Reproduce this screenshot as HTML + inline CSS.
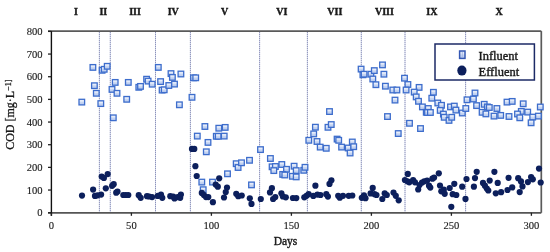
<!DOCTYPE html>
<html><head><meta charset="utf-8"><style>
html,body{margin:0;padding:0;background:#fff;}
body{width:550px;height:252px;overflow:hidden;}
svg{display:block;}
text{font-family:"Liberation Serif","Times New Roman",serif;fill:#1a1a1a;}
.tl{font-size:10.6px;stroke-width:0.12px;}
text{stroke:#1a1a1a;stroke-width:0.4px;}
.rm{font-size:10px;font-weight:bold;}
.sep0{stroke:#d3d8ee;stroke-width:0.9;}
.sep{stroke:#7a80aa;stroke-width:0.9;stroke-dasharray:1 1;}
.tk{stroke:#222;stroke-width:1.3;}
.sq{fill:url(#g);stroke:#3d6dcc;stroke-width:1.3;}
.ci{fill:#0c1f5c;}
</style></head><body>
<svg width="550" height="252" viewBox="0 0 550 252">
<defs><linearGradient id="g" x1="0" y1="0" x2="0" y2="1"><stop offset="0" stop-color="#d9e3f6"/><stop offset="0.3" stop-color="#e8eefa"/><stop offset="0.55" stop-color="#c6d5f2"/><stop offset="1" stop-color="#b6c9ee"/></linearGradient></defs>
<rect x="0" y="0" width="550" height="252" fill="#fff"/>
<line x1="99.4" y1="31.9" x2="99.4" y2="212" class="sep0"/><line x1="99.4" y1="31.9" x2="99.4" y2="212" class="sep"/><line x1="110.3" y1="31.9" x2="110.3" y2="212" class="sep0"/><line x1="110.3" y1="31.9" x2="110.3" y2="212" class="sep"/><line x1="155.5" y1="31.9" x2="155.5" y2="212" class="sep0"/><line x1="155.5" y1="31.9" x2="155.5" y2="212" class="sep"/><line x1="190.4" y1="31.9" x2="190.4" y2="212" class="sep0"/><line x1="190.4" y1="31.9" x2="190.4" y2="212" class="sep"/><line x1="259.6" y1="31.9" x2="259.6" y2="212" class="sep0"/><line x1="259.6" y1="31.9" x2="259.6" y2="212" class="sep"/><line x1="307.4" y1="31.9" x2="307.4" y2="212" class="sep0"/><line x1="307.4" y1="31.9" x2="307.4" y2="212" class="sep"/><line x1="361.3" y1="31.9" x2="361.3" y2="212" class="sep0"/><line x1="361.3" y1="31.9" x2="361.3" y2="212" class="sep"/><line x1="405" y1="31.9" x2="405" y2="212" class="sep0"/><line x1="405" y1="31.9" x2="405" y2="212" class="sep"/><line x1="465.6" y1="31.9" x2="465.6" y2="212" class="sep0"/><line x1="465.6" y1="31.9" x2="465.6" y2="212" class="sep"/>
<line x1="48" y1="31.1" x2="541.3" y2="31.1" stroke="#5a5a5a" stroke-width="1.7"/>
<line x1="541.3" y1="31.1" x2="541.3" y2="212.8" stroke="#5a5a5a" stroke-width="1.7"/>
<line x1="48" y1="212.8" x2="541.3" y2="212.8" stroke="#555" stroke-width="1.8"/>
<line x1="51.4" y1="31.1" x2="51.4" y2="215.8" stroke="#111" stroke-width="1.4"/>
<line x1="48" y1="212.70" x2="51.4" y2="212.70" class="tk"/><line x1="48" y1="190.04" x2="51.4" y2="190.04" class="tk"/><line x1="48" y1="167.38" x2="51.4" y2="167.38" class="tk"/><line x1="48" y1="144.71" x2="51.4" y2="144.71" class="tk"/><line x1="48" y1="122.05" x2="51.4" y2="122.05" class="tk"/><line x1="48" y1="99.39" x2="51.4" y2="99.39" class="tk"/><line x1="48" y1="76.72" x2="51.4" y2="76.72" class="tk"/><line x1="48" y1="54.06" x2="51.4" y2="54.06" class="tk"/><line x1="48" y1="31.40" x2="51.4" y2="31.40" class="tk"/><line x1="51.40" y1="212.7" x2="51.40" y2="215.8" class="tk"/><line x1="131.40" y1="212.7" x2="131.40" y2="215.8" class="tk"/><line x1="211.40" y1="212.7" x2="211.40" y2="215.8" class="tk"/><line x1="291.40" y1="212.7" x2="291.40" y2="215.8" class="tk"/><line x1="371.40" y1="212.7" x2="371.40" y2="215.8" class="tk"/><line x1="451.40" y1="212.7" x2="451.40" y2="215.8" class="tk"/><line x1="531.40" y1="212.7" x2="531.40" y2="215.8" class="tk"/>
<rect x="79.00" y="99.30" width="5.6" height="5.6" class="sq"/><rect x="90.10" y="64.60" width="5.6" height="5.6" class="sq"/><rect x="91.60" y="82.90" width="5.6" height="5.6" class="sq"/><rect x="93.50" y="90.50" width="5.6" height="5.6" class="sq"/><rect x="98.00" y="100.80" width="5.6" height="5.6" class="sq"/><rect x="99.30" y="67.50" width="5.6" height="5.6" class="sq"/><rect x="101.40" y="66.50" width="5.6" height="5.6" class="sq"/><rect x="104.40" y="63.50" width="5.6" height="5.6" class="sq"/><rect x="109.20" y="86.60" width="5.6" height="5.6" class="sq"/><rect x="112.40" y="79.60" width="5.6" height="5.6" class="sq"/><rect x="114.20" y="90.50" width="5.6" height="5.6" class="sq"/><rect x="110.50" y="115.00" width="5.6" height="5.6" class="sq"/><rect x="123.90" y="96.50" width="5.6" height="5.6" class="sq"/><rect x="125.50" y="79.60" width="5.6" height="5.6" class="sq"/><rect x="136.00" y="84.50" width="5.6" height="5.6" class="sq"/><rect x="137.70" y="83.60" width="5.6" height="5.6" class="sq"/><rect x="143.80" y="76.40" width="5.6" height="5.6" class="sq"/><rect x="145.30" y="78.30" width="5.6" height="5.6" class="sq"/><rect x="149.40" y="81.40" width="5.6" height="5.6" class="sq"/><rect x="155.50" y="64.60" width="5.6" height="5.6" class="sq"/><rect x="157.80" y="78.80" width="5.6" height="5.6" class="sq"/><rect x="159.30" y="87.30" width="5.6" height="5.6" class="sq"/><rect x="161.40" y="87.00" width="5.6" height="5.6" class="sq"/><rect x="166.00" y="82.70" width="5.6" height="5.6" class="sq"/><rect x="168.20" y="70.80" width="5.6" height="5.6" class="sq"/><rect x="169.60" y="74.60" width="5.6" height="5.6" class="sq"/><rect x="171.70" y="81.30" width="5.6" height="5.6" class="sq"/><rect x="178.10" y="71.20" width="5.6" height="5.6" class="sq"/><rect x="176.60" y="102.00" width="5.6" height="5.6" class="sq"/><rect x="189.20" y="94.50" width="5.6" height="5.6" class="sq"/><rect x="190.70" y="75.00" width="5.6" height="5.6" class="sq"/><rect x="192.90" y="75.00" width="5.6" height="5.6" class="sq"/><rect x="194.50" y="133.30" width="5.6" height="5.6" class="sq"/><rect x="202.10" y="123.70" width="5.6" height="5.6" class="sq"/><rect x="205.20" y="139.60" width="5.6" height="5.6" class="sq"/><rect x="203.50" y="149.00" width="5.6" height="5.6" class="sq"/><rect x="199.00" y="179.30" width="5.6" height="5.6" class="sq"/><rect x="200.40" y="186.90" width="5.6" height="5.6" class="sq"/><rect x="209.70" y="179.30" width="5.6" height="5.6" class="sq"/><rect x="213.50" y="133.50" width="5.6" height="5.6" class="sq"/><rect x="215.40" y="133.50" width="5.6" height="5.6" class="sq"/><rect x="216.00" y="125.40" width="5.6" height="5.6" class="sq"/><rect x="222.40" y="124.60" width="5.6" height="5.6" class="sq"/><rect x="221.40" y="133.30" width="5.6" height="5.6" class="sq"/><rect x="224.70" y="171.00" width="5.6" height="5.6" class="sq"/><rect x="233.40" y="160.90" width="5.6" height="5.6" class="sq"/><rect x="235.30" y="164.70" width="5.6" height="5.6" class="sq"/><rect x="238.70" y="160.00" width="5.6" height="5.6" class="sq"/><rect x="246.70" y="157.50" width="5.6" height="5.6" class="sq"/><rect x="248.70" y="182.10" width="5.6" height="5.6" class="sq"/><rect x="257.70" y="146.80" width="5.6" height="5.6" class="sq"/><rect x="267.60" y="155.70" width="5.6" height="5.6" class="sq"/><rect x="269.30" y="164.00" width="5.6" height="5.6" class="sq"/><rect x="272.60" y="163.70" width="5.6" height="5.6" class="sq"/><rect x="271.00" y="167.80" width="5.6" height="5.6" class="sq"/><rect x="279.00" y="161.70" width="5.6" height="5.6" class="sq"/><rect x="283.70" y="166.50" width="5.6" height="5.6" class="sq"/><rect x="279.90" y="171.60" width="5.6" height="5.6" class="sq"/><rect x="282.00" y="172.20" width="5.6" height="5.6" class="sq"/><rect x="291.30" y="163.40" width="5.6" height="5.6" class="sq"/><rect x="293.40" y="167.80" width="5.6" height="5.6" class="sq"/><rect x="289.60" y="173.50" width="5.6" height="5.6" class="sq"/><rect x="293.40" y="174.10" width="5.6" height="5.6" class="sq"/><rect x="300.95" y="167.50" width="5.6" height="5.6" class="sq"/><rect x="302.20" y="164.50" width="5.6" height="5.6" class="sq"/><rect x="306.00" y="137.50" width="5.6" height="5.6" class="sq"/><rect x="310.90" y="131.10" width="5.6" height="5.6" class="sq"/><rect x="312.60" y="124.40" width="5.6" height="5.6" class="sq"/><rect x="314.20" y="138.70" width="5.6" height="5.6" class="sq"/><rect x="317.40" y="144.30" width="5.6" height="5.6" class="sq"/><rect x="323.45" y="145.50" width="5.6" height="5.6" class="sq"/><rect x="325.20" y="124.50" width="5.6" height="5.6" class="sq"/><rect x="328.45" y="121.75" width="5.6" height="5.6" class="sq"/><rect x="326.70" y="108.75" width="5.6" height="5.6" class="sq"/><rect x="334.30" y="136.30" width="5.6" height="5.6" class="sq"/><rect x="335.90" y="137.50" width="5.6" height="5.6" class="sq"/><rect x="338.80" y="144.30" width="5.6" height="5.6" class="sq"/><rect x="345.40" y="145.20" width="5.6" height="5.6" class="sq"/><rect x="349.50" y="139.20" width="5.6" height="5.6" class="sq"/><rect x="350.90" y="143.90" width="5.6" height="5.6" class="sq"/><rect x="347.30" y="150.20" width="5.6" height="5.6" class="sq"/><rect x="358.30" y="66.30" width="5.6" height="5.6" class="sq"/><rect x="360.10" y="72.00" width="5.6" height="5.6" class="sq"/><rect x="361.30" y="71.40" width="5.6" height="5.6" class="sq"/><rect x="368.10" y="71.40" width="5.6" height="5.6" class="sq"/><rect x="371.50" y="67.80" width="5.6" height="5.6" class="sq"/><rect x="370.00" y="76.20" width="5.6" height="5.6" class="sq"/><rect x="373.10" y="81.90" width="5.6" height="5.6" class="sq"/><rect x="379.70" y="62.10" width="5.6" height="5.6" class="sq"/><rect x="381.10" y="71.40" width="5.6" height="5.6" class="sq"/><rect x="382.60" y="83.40" width="5.6" height="5.6" class="sq"/><rect x="384.70" y="113.75" width="5.6" height="5.6" class="sq"/><rect x="390.00" y="87.20" width="5.6" height="5.6" class="sq"/><rect x="394.10" y="87.20" width="5.6" height="5.6" class="sq"/><rect x="392.20" y="97.30" width="5.6" height="5.6" class="sq"/><rect x="395.45" y="130.75" width="5.6" height="5.6" class="sq"/><rect x="401.70" y="75.40" width="5.6" height="5.6" class="sq"/><rect x="405.10" y="81.70" width="5.6" height="5.6" class="sq"/><rect x="403.30" y="87.20" width="5.6" height="5.6" class="sq"/><rect x="406.70" y="120.50" width="5.6" height="5.6" class="sq"/><rect x="416.30" y="84.60" width="5.6" height="5.6" class="sq"/><rect x="411.40" y="89.30" width="5.6" height="5.6" class="sq"/><rect x="413.40" y="94.10" width="5.6" height="5.6" class="sq"/><rect x="415.70" y="98.50" width="5.6" height="5.6" class="sq"/><rect x="417.70" y="125.75" width="5.6" height="5.6" class="sq"/><rect x="419.60" y="104.10" width="5.6" height="5.6" class="sq"/><rect x="423.45" y="109.50" width="5.6" height="5.6" class="sq"/><rect x="425.50" y="105.70" width="5.6" height="5.6" class="sq"/><rect x="424.70" y="109.70" width="5.6" height="5.6" class="sq"/><rect x="427.60" y="109.70" width="5.6" height="5.6" class="sq"/><rect x="430.60" y="89.50" width="5.6" height="5.6" class="sq"/><rect x="429.00" y="95.40" width="5.6" height="5.6" class="sq"/><rect x="435.00" y="100.20" width="5.6" height="5.6" class="sq"/><rect x="438.70" y="102.50" width="5.6" height="5.6" class="sq"/><rect x="437.40" y="107.60" width="5.6" height="5.6" class="sq"/><rect x="440.60" y="111.30" width="5.6" height="5.6" class="sq"/><rect x="441.40" y="114.50" width="5.6" height="5.6" class="sq"/><rect x="446.20" y="117.60" width="5.6" height="5.6" class="sq"/><rect x="447.70" y="104.10" width="5.6" height="5.6" class="sq"/><rect x="448.90" y="114.50" width="5.6" height="5.6" class="sq"/><rect x="451.50" y="103.30" width="5.6" height="5.6" class="sq"/><rect x="453.10" y="107.30" width="5.6" height="5.6" class="sq"/><rect x="459.50" y="110.20" width="5.6" height="5.6" class="sq"/><rect x="463.00" y="105.70" width="5.6" height="5.6" class="sq"/><rect x="464.20" y="97.00" width="5.6" height="5.6" class="sq"/><rect x="470.60" y="96.20" width="5.6" height="5.6" class="sq"/><rect x="472.20" y="90.20" width="5.6" height="5.6" class="sq"/><rect x="473.80" y="102.80" width="5.6" height="5.6" class="sq"/><rect x="481.40" y="101.50" width="5.6" height="5.6" class="sq"/><rect x="484.60" y="104.10" width="5.6" height="5.6" class="sq"/><rect x="486.50" y="104.70" width="5.6" height="5.6" class="sq"/><rect x="479.30" y="109.50" width="5.6" height="5.6" class="sq"/><rect x="483.10" y="111.10" width="5.6" height="5.6" class="sq"/><rect x="494.10" y="105.70" width="5.6" height="5.6" class="sq"/><rect x="491.20" y="113.30" width="5.6" height="5.6" class="sq"/><rect x="497.90" y="112.60" width="5.6" height="5.6" class="sq"/><rect x="504.20" y="99.30" width="5.6" height="5.6" class="sq"/><rect x="509.40" y="98.60" width="5.6" height="5.6" class="sq"/><rect x="506.20" y="113.70" width="5.6" height="5.6" class="sq"/><rect x="520.40" y="101.00" width="5.6" height="5.6" class="sq"/><rect x="518.50" y="108.60" width="5.6" height="5.6" class="sq"/><rect x="514.70" y="111.20" width="5.6" height="5.6" class="sq"/><rect x="517.00" y="115.00" width="5.6" height="5.6" class="sq"/><rect x="524.90" y="109.30" width="5.6" height="5.6" class="sq"/><rect x="529.90" y="114.30" width="5.6" height="5.6" class="sq"/><rect x="528.30" y="120.00" width="5.6" height="5.6" class="sq"/><rect x="535.60" y="113.30" width="5.6" height="5.6" class="sq"/><rect x="537.50" y="104.20" width="5.6" height="5.6" class="sq"/>
<circle cx="82.00" cy="195.60" r="3.1" class="ci"/><circle cx="93.10" cy="189.60" r="3.1" class="ci"/><circle cx="95.00" cy="195.90" r="3.1" class="ci"/><circle cx="97.50" cy="195.30" r="3.1" class="ci"/><circle cx="101.10" cy="194.60" r="3.1" class="ci"/><circle cx="101.70" cy="176.60" r="3.1" class="ci"/><circle cx="103.90" cy="177.90" r="3.1" class="ci"/><circle cx="107.70" cy="174.10" r="3.1" class="ci"/><circle cx="105.80" cy="188.30" r="3.1" class="ci"/><circle cx="112.10" cy="185.80" r="3.1" class="ci"/><circle cx="113.70" cy="184.20" r="3.1" class="ci"/><circle cx="116.20" cy="192.70" r="3.1" class="ci"/><circle cx="117.50" cy="191.50" r="3.1" class="ci"/><circle cx="123.30" cy="195.00" r="3.1" class="ci"/><circle cx="125.80" cy="195.00" r="3.1" class="ci"/><circle cx="128.30" cy="195.00" r="3.1" class="ci"/><circle cx="138.75" cy="195.20" r="3.1" class="ci"/><circle cx="140.70" cy="197.80" r="3.1" class="ci"/><circle cx="147.00" cy="196.20" r="3.1" class="ci"/><circle cx="149.20" cy="196.50" r="3.1" class="ci"/><circle cx="152.10" cy="197.10" r="3.1" class="ci"/><circle cx="157.80" cy="195.90" r="3.1" class="ci"/><circle cx="161.00" cy="194.60" r="3.1" class="ci"/><circle cx="162.30" cy="197.80" r="3.1" class="ci"/><circle cx="170.30" cy="196.20" r="3.1" class="ci"/><circle cx="173.20" cy="196.50" r="3.1" class="ci"/><circle cx="174.50" cy="198.40" r="3.1" class="ci"/><circle cx="177.70" cy="197.10" r="3.1" class="ci"/><circle cx="180.90" cy="194.60" r="3.1" class="ci"/><circle cx="180.20" cy="197.80" r="3.1" class="ci"/><circle cx="192.00" cy="148.90" r="3.1" class="ci"/><circle cx="194.30" cy="148.90" r="3.1" class="ci"/><circle cx="195.40" cy="166.20" r="3.1" class="ci"/><circle cx="196.70" cy="176.00" r="3.1" class="ci"/><circle cx="201.80" cy="192.90" r="3.1" class="ci"/><circle cx="203.90" cy="195.00" r="3.1" class="ci"/><circle cx="206.00" cy="197.10" r="3.1" class="ci"/><circle cx="208.30" cy="197.10" r="3.1" class="ci"/><circle cx="212.90" cy="202.20" r="3.1" class="ci"/><circle cx="215.70" cy="184.60" r="3.1" class="ci"/><circle cx="217.80" cy="186.70" r="3.1" class="ci"/><circle cx="219.20" cy="178.30" r="3.1" class="ci"/><circle cx="224.00" cy="197.50" r="3.1" class="ci"/><circle cx="225.75" cy="192.00" r="3.1" class="ci"/><circle cx="227.00" cy="187.50" r="3.1" class="ci"/><circle cx="236.25" cy="193.75" r="3.1" class="ci"/><circle cx="238.25" cy="196.25" r="3.1" class="ci"/><circle cx="241.75" cy="195.50" r="3.1" class="ci"/><circle cx="249.80" cy="198.30" r="3.1" class="ci"/><circle cx="251.50" cy="203.90" r="3.1" class="ci"/><circle cx="260.80" cy="199.00" r="3.1" class="ci"/><circle cx="270.00" cy="192.40" r="3.1" class="ci"/><circle cx="271.90" cy="188.20" r="3.1" class="ci"/><circle cx="273.10" cy="199.00" r="3.1" class="ci"/><circle cx="275.30" cy="197.10" r="3.1" class="ci"/><circle cx="281.40" cy="193.30" r="3.1" class="ci"/><circle cx="282.90" cy="196.50" r="3.1" class="ci"/><circle cx="285.80" cy="197.30" r="3.1" class="ci"/><circle cx="292.90" cy="198.00" r="3.1" class="ci"/><circle cx="296.30" cy="198.10" r="3.1" class="ci"/><circle cx="304.30" cy="197.30" r="3.1" class="ci"/><circle cx="306.50" cy="195.80" r="3.1" class="ci"/><circle cx="308.60" cy="194.20" r="3.1" class="ci"/><circle cx="313.30" cy="195.90" r="3.1" class="ci"/><circle cx="315.40" cy="185.70" r="3.1" class="ci"/><circle cx="317.40" cy="194.60" r="3.1" class="ci"/><circle cx="320.50" cy="195.00" r="3.1" class="ci"/><circle cx="326.30" cy="194.20" r="3.1" class="ci"/><circle cx="327.90" cy="196.60" r="3.1" class="ci"/><circle cx="329.50" cy="183.90" r="3.1" class="ci"/><circle cx="331.40" cy="180.30" r="3.1" class="ci"/><circle cx="338.20" cy="195.80" r="3.1" class="ci"/><circle cx="339.80" cy="197.70" r="3.1" class="ci"/><circle cx="343.00" cy="195.80" r="3.1" class="ci"/><circle cx="348.70" cy="195.80" r="3.1" class="ci"/><circle cx="352.30" cy="195.50" r="3.1" class="ci"/><circle cx="361.80" cy="197.80" r="3.1" class="ci"/><circle cx="364.00" cy="195.40" r="3.1" class="ci"/><circle cx="365.50" cy="198.20" r="3.1" class="ci"/><circle cx="370.60" cy="193.40" r="3.1" class="ci"/><circle cx="372.70" cy="187.90" r="3.1" class="ci"/><circle cx="374.60" cy="194.20" r="3.1" class="ci"/><circle cx="376.50" cy="195.00" r="3.1" class="ci"/><circle cx="382.30" cy="199.00" r="3.1" class="ci"/><circle cx="384.70" cy="193.40" r="3.1" class="ci"/><circle cx="386.80" cy="195.00" r="3.1" class="ci"/><circle cx="393.50" cy="192.60" r="3.1" class="ci"/><circle cx="395.80" cy="195.80" r="3.1" class="ci"/><circle cx="398.70" cy="200.30" r="3.1" class="ci"/><circle cx="407.80" cy="173.90" r="3.1" class="ci"/><circle cx="404.90" cy="180.00" r="3.1" class="ci"/><circle cx="407.40" cy="181.30" r="3.1" class="ci"/><circle cx="409.30" cy="182.30" r="3.1" class="ci"/><circle cx="413.10" cy="180.00" r="3.1" class="ci"/><circle cx="415.00" cy="182.30" r="3.1" class="ci"/><circle cx="418.20" cy="189.50" r="3.1" class="ci"/><circle cx="419.50" cy="185.10" r="3.1" class="ci"/><circle cx="422.00" cy="182.60" r="3.1" class="ci"/><circle cx="424.30" cy="181.30" r="3.1" class="ci"/><circle cx="427.10" cy="180.60" r="3.1" class="ci"/><circle cx="429.00" cy="185.70" r="3.1" class="ci"/><circle cx="430.30" cy="187.60" r="3.1" class="ci"/><circle cx="432.40" cy="178.70" r="3.1" class="ci"/><circle cx="434.10" cy="177.50" r="3.1" class="ci"/><circle cx="438.80" cy="173.30" r="3.1" class="ci"/><circle cx="440.00" cy="185.50" r="3.1" class="ci"/><circle cx="441.30" cy="191.30" r="3.1" class="ci"/><circle cx="443.80" cy="189.70" r="3.1" class="ci"/><circle cx="444.70" cy="193.80" r="3.1" class="ci"/><circle cx="449.70" cy="188.00" r="3.1" class="ci"/><circle cx="454.30" cy="183.80" r="3.1" class="ci"/><circle cx="452.70" cy="194.20" r="3.1" class="ci"/><circle cx="456.30" cy="195.00" r="3.1" class="ci"/><circle cx="451.30" cy="206.80" r="3.1" class="ci"/><circle cx="462.20" cy="186.70" r="3.1" class="ci"/><circle cx="466.50" cy="179.00" r="3.1" class="ci"/><circle cx="465.50" cy="198.90" r="3.1" class="ci"/><circle cx="476.70" cy="171.80" r="3.1" class="ci"/><circle cx="475.00" cy="178.10" r="3.1" class="ci"/><circle cx="473.90" cy="186.70" r="3.1" class="ci"/><circle cx="483.00" cy="182.90" r="3.1" class="ci"/><circle cx="484.90" cy="185.70" r="3.1" class="ci"/><circle cx="486.80" cy="188.60" r="3.1" class="ci"/><circle cx="488.30" cy="190.50" r="3.1" class="ci"/><circle cx="489.70" cy="180.60" r="3.1" class="ci"/><circle cx="494.40" cy="171.80" r="3.1" class="ci"/><circle cx="497.70" cy="182.90" r="3.1" class="ci"/><circle cx="495.80" cy="193.30" r="3.1" class="ci"/><circle cx="501.10" cy="192.20" r="3.1" class="ci"/><circle cx="507.50" cy="190.00" r="3.1" class="ci"/><circle cx="512.20" cy="187.40" r="3.1" class="ci"/><circle cx="508.60" cy="177.80" r="3.1" class="ci"/><circle cx="518.20" cy="178.20" r="3.1" class="ci"/><circle cx="521.00" cy="181.40" r="3.1" class="ci"/><circle cx="522.50" cy="186.40" r="3.1" class="ci"/><circle cx="519.70" cy="192.10" r="3.1" class="ci"/><circle cx="527.90" cy="182.10" r="3.1" class="ci"/><circle cx="531.10" cy="177.10" r="3.1" class="ci"/><circle cx="532.80" cy="179.30" r="3.1" class="ci"/><circle cx="539.00" cy="168.60" r="3.1" class="ci"/><circle cx="540.70" cy="182.50" r="3.1" class="ci"/>
<rect x="435" y="44" width="99.4" height="36" fill="#fff" stroke="#1c2a66" stroke-width="1.5"/>
<rect x="459.6" y="51" width="5.4" height="7.4" fill="url(#g)" stroke="#3458b4" stroke-width="1.5"/><line x1="462.3" y1="52" x2="462.3" y2="57.5" stroke="#9fb4e2" stroke-width="0.8"/>
<ellipse cx="461.9" cy="70.6" rx="4.6" ry="5" class="ci"/>
<text x="478.5" y="60" style="font-size:12.5px">Influent</text>
<text x="478.5" y="75.6" style="font-size:12.5px">Effluent</text>
<text x="42.6" y="216.30" class="tl" text-anchor="end">0</text><text x="42.6" y="193.64" class="tl" text-anchor="end">100</text><text x="42.6" y="170.97" class="tl" text-anchor="end">200</text><text x="42.6" y="148.31" class="tl" text-anchor="end">300</text><text x="42.6" y="125.65" class="tl" text-anchor="end">400</text><text x="42.6" y="102.99" class="tl" text-anchor="end">500</text><text x="42.6" y="80.32" class="tl" text-anchor="end">600</text><text x="42.6" y="57.66" class="tl" text-anchor="end">700</text><text x="42.6" y="35.00" class="tl" text-anchor="end">800</text><text x="51.40" y="229.0" class="tl" text-anchor="middle">0</text><text x="131.40" y="229.0" class="tl" text-anchor="middle">50</text><text x="211.40" y="229.0" class="tl" text-anchor="middle">100</text><text x="291.40" y="229.0" class="tl" text-anchor="middle">150</text><text x="371.40" y="229.0" class="tl" text-anchor="middle">200</text><text x="451.40" y="229.0" class="tl" text-anchor="middle">250</text><text x="531.40" y="229.0" class="tl" text-anchor="middle">300</text>
<text x="76" y="15.2" class="rm" text-anchor="middle">I</text><text x="103.3" y="15.2" class="rm" text-anchor="middle">II</text><text x="135" y="15.2" class="rm" text-anchor="middle">III</text><text x="173.2" y="15.2" class="rm" text-anchor="middle">IV</text><text x="224.7" y="15.2" class="rm" text-anchor="middle">V</text><text x="281.9" y="15.2" class="rm" text-anchor="middle">VI</text><text x="334.8" y="15.2" class="rm" text-anchor="middle">VII</text><text x="384.4" y="15.2" class="rm" text-anchor="middle">VIII</text><text x="431.8" y="15.2" class="rm" text-anchor="middle">IX</text><text x="499" y="15.2" class="rm" text-anchor="middle">X</text>
<text x="285.5" y="244.5" text-anchor="middle" style="font-size:11.5px">Days</text>
<text transform="translate(14,149.8) rotate(-90)" style="font-size:12px;stroke-width:0.3px">COD [mg·L<tspan dy="-2.6" style="font-size:8px">−1]</tspan></text>
</svg>
</body></html>
